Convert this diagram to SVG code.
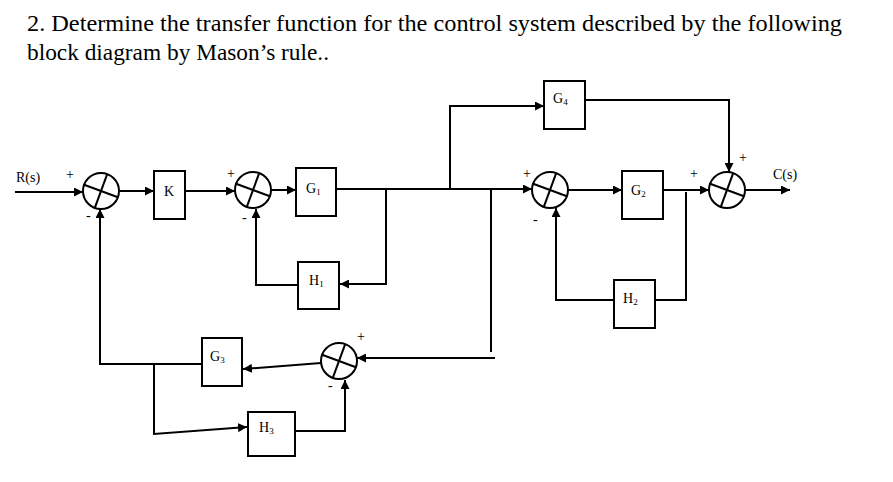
<svg xmlns="http://www.w3.org/2000/svg" width="893" height="482" viewBox="0 0 893 482">
<defs>
<marker id="a" viewBox="0 0 10 10" refX="10" refY="5" markerWidth="9" markerHeight="9" markerUnits="userSpaceOnUse" orient="auto"><path d="M0,0L10,5L0,10z" fill="#000"/></marker>
<g id="sj"><circle r="18" fill="#fff" stroke="#000" stroke-width="2"/><line x1="6.2" y1="-16.9" x2="-6.2" y2="16.9" stroke="#000" stroke-width="2"/><line x1="-16.9" y1="-6.2" x2="16.9" y2="6.2" stroke="#000" stroke-width="2"/></g>
</defs>
<style>
text{font-family:"Liberation Serif",serif;fill:#000}
.t{font-size:24px}
.l{font-size:14px}
.s{font-size:9px}
.b{fill:#fff;stroke:#000;stroke-width:2}
.w{fill:none;stroke:#000;stroke-width:2}
</style>
<rect width="893" height="482" fill="#fff"/>
<text class="t" x="27" y="31" textLength="815" lengthAdjust="spacingAndGlyphs">2. Determine the transfer function for the control system described by the following</text>
<text class="t" x="27" y="60" textLength="302" lengthAdjust="spacingAndGlyphs">block diagram by Mason’s rule..</text>
<g id="connectors" class="w">
<path d="M15,192H83" marker-end="url(#a)"/>
<path d="M119,191H154" marker-end="url(#a)"/>
<path d="M185,191H235" marker-end="url(#a)"/>
<path d="M271,190H296" marker-end="url(#a)"/>
<path d="M336,189H532" marker-end="url(#a)"/>
<path d="M386,189V284H340" marker-end="url(#a)"/>
<path d="M298,285H256V209" marker-end="url(#a)"/>
<path d="M450,189V106H544" marker-end="url(#a)"/>
<path d="M585,100H729V172" marker-end="url(#a)"/>
<path d="M568,190H622" marker-end="url(#a)"/>
<path d="M663,190H709" marker-end="url(#a)"/>
<path d="M745,190H790" marker-end="url(#a)"/>
<path d="M686,192V300H655"/>
<path d="M614,300H556V208" marker-end="url(#a)"/>
<path d="M491,190V352"/>
<path d="M495,358H357" marker-end="url(#a)"/>
<path d="M321,363L243,369" marker-end="url(#a)"/>
<path d="M202,364H100V209" marker-end="url(#a)"/>
<path d="M154,364V434L247,427" marker-end="url(#a)"/>
<path d="M295,431H345V380" marker-end="url(#a)"/>
</g>
<g id="S1"><use href="#sj" x="101" y="191"/><text class="l" x="66" y="179">+</text><text class="l" x="86" y="220">-</text></g>
<g id="S2"><use href="#sj" x="253" y="190"/><text class="l" x="227" y="178">+</text><text class="l" x="242" y="222">-</text></g>
<g id="S3"><use href="#sj" x="550" y="190"/><text class="l" x="523" y="178">+</text><text class="l" x="533" y="224">-</text></g>
<g id="S4"><use href="#sj" x="727" y="190"/><text class="l" x="739" y="162">+</text><text class="l" x="690" y="178">+</text></g>
<g id="S5"><use href="#sj" x="339" y="361"/><text class="l" x="357" y="341">+</text><text class="l" x="328" y="390">-</text></g>
<g id="K"><rect class="b" x="154" y="171" width="31" height="48"/><text class="l" x="164" y="196">K</text></g>
<g id="G1"><rect class="b" x="296" y="168" width="40" height="48"/><text class="l" x="306" y="193">G<tspan class="s" dy="2">1</tspan></text></g>
<g id="H1"><rect class="b" x="298" y="262" width="41" height="47"/><text class="l" x="309" y="285">H<tspan class="s" dy="2">1</tspan></text></g>
<g id="G4"><rect class="b" x="544" y="81" width="41" height="48"/><text class="l" x="553" y="103">G<tspan class="s" dy="2">4</tspan></text></g>
<g id="G2"><rect class="b" x="622" y="171" width="41" height="48"/><text class="l" x="631" y="195">G<tspan class="s" dy="2">2</tspan></text></g>
<g id="H2"><rect class="b" x="614" y="280" width="41" height="48"/><text class="l" x="623" y="303">H<tspan class="s" dy="2">2</tspan></text></g>
<g id="G3"><rect class="b" x="202" y="338" width="40" height="48"/><text class="l" x="210" y="361">G<tspan class="s" dy="2">3</tspan></text></g>
<g id="H3"><rect class="b" x="248" y="412" width="47" height="44"/><text class="l" x="259" y="432">H<tspan class="s" dy="2">3</tspan></text></g>
<text class="l" x="16" y="182">R(s)</text>
<text class="l" x="773" y="179">C(s)</text>
</svg>
